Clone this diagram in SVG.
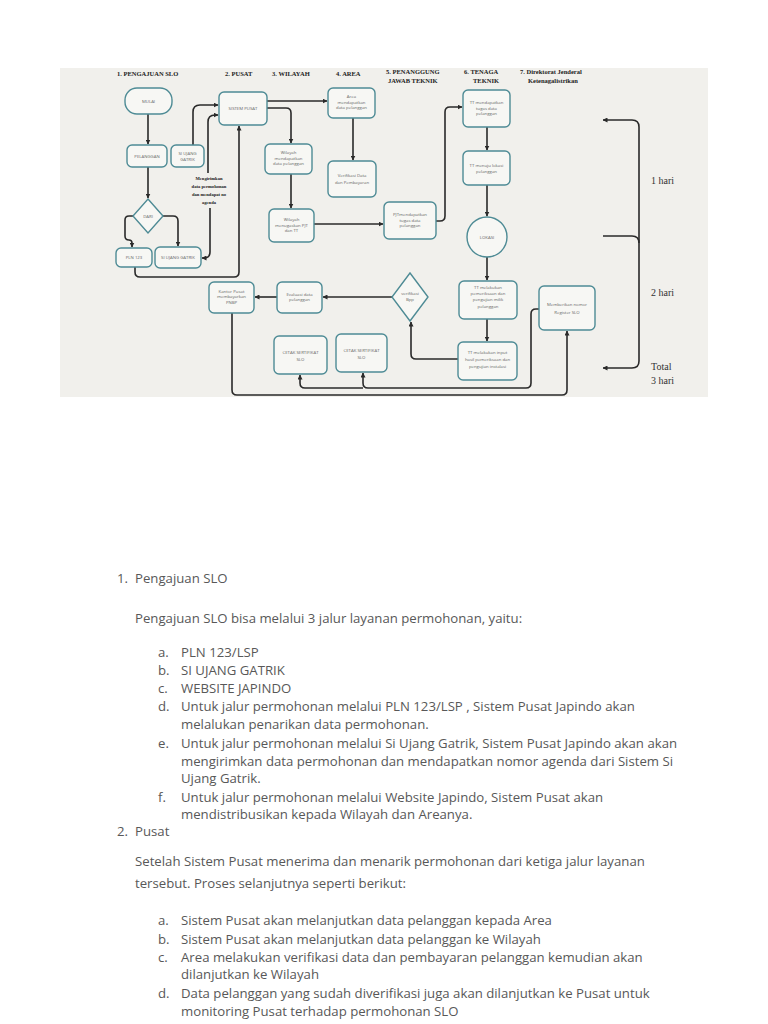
<svg xmlns="http://www.w3.org/2000/svg" width="768" height="1024" viewBox="0 0 768 1024">
<style>
.hd{font-family:"Liberation Serif",serif;font-weight:bold;font-size:6.5px;fill:#222}
.nd rect,.nd circle,.nd polygon{fill:#f7f7f4;stroke:#4e8b95;stroke-width:1.4}
.nt{font-family:"Open Sans","Liberation Sans",sans-serif;font-size:4.3px;fill:#666;text-anchor:middle}
.cn path{fill:none;stroke:#2a2a2a;stroke-width:1.6}
.lb{font-family:"Liberation Serif",serif;font-size:10px;fill:#333}
.mk{font-family:"Liberation Serif",serif;font-weight:bold;font-size:4.6px;fill:#222;text-anchor:middle}
.tx{font-family:"Open Sans","Liberation Sans",sans-serif;font-size:13.2px;fill:#585858}
</style>
<defs>
<marker id="ar" viewBox="0 0 10 10" refX="9" refY="5" markerWidth="5" markerHeight="5" markerUnits="userSpaceOnUse" orient="auto-start-reverse">
<path d="M0,0 L10,5 L0,10 z" fill="#2a2a2a"/>
</marker>
</defs>
<rect x="0" y="0" width="768" height="1024" fill="#ffffff"/>
<rect x="60" y="68" width="648" height="329" fill="#f1f0ec"/>

<g id="headers">
<text class="hd" x="117" y="75.5">1.   PENGAJUAN SLO</text>
<text class="hd" x="225" y="75.5">2. PUSAT</text>
<text class="hd" x="272" y="75.5">3. WILAYAH</text>
<text class="hd" x="336" y="75.5">4. AREA</text>
<text class="hd" x="386" y="74">5. PENANGGUNG</text>
<text class="hd" x="388" y="83">JAWAB TEKNIK</text>
<text class="hd" x="464" y="74">6.  TENAGA</text>
<text class="hd" x="473" y="83">TEKNIK</text>
<text class="hd" x="520" y="74">7. Direktorat Jenderal</text>
<text class="hd" x="528" y="83">Ketenagalistrikan</text>
</g>

<g class="cn" id="connectors">
<path d="M148,114 V144" marker-end="url(#ar)"/>
<path d="M148,167 V198" marker-end="url(#ar)"/>
<path d="M133,216 H129 Q125,216 125,220 V236 Q125,240 129,240 Q132,240 132,243 V247" marker-end="url(#ar)"/>
<path d="M163,216 H173 Q178,216 178,221 V246" marker-end="url(#ar)"/>
<path d="M193,145 V112 Q193,105 200,105 H218" marker-end="url(#ar)"/>
<path d="M208,173 V122 Q208,115 215,115 H218" marker-end="url(#ar)"/>
<path d="M210,208 V252 Q210,258 204,258 H202" marker-end="url(#ar)"/>
<path d="M135,267 V272 Q135,277 140,277 H234 Q239,277 239,272 V126" marker-end="url(#ar)"/>
<path d="M267,101 H327" marker-end="url(#ar)"/>
<path d="M267,108 H286 Q291,108 291,113 V143" marker-end="url(#ar)"/>
<path d="M353,118 V160" marker-end="url(#ar)"/>
<path d="M291,174 V208" marker-end="url(#ar)"/>
<path d="M314,224 H383" marker-end="url(#ar)"/>
<path d="M436,221 H440 Q445,221 445,216 V112 Q445,107 450,107 H462" marker-end="url(#ar)"/>
<path d="M487,127 V150" marker-end="url(#ar)"/>
<path d="M487,185 V216" marker-end="url(#ar)"/>
<path d="M487,257 V280" marker-end="url(#ar)"/>
<path d="M487,319 V341" marker-end="url(#ar)"/>
<path d="M458,359 H416 Q411,359 411,354 V322" marker-end="url(#ar)"/>
<path d="M392,297 H323" marker-end="url(#ar)"/>
<path d="M277,297 H255" marker-end="url(#ar)"/>
<path d="M232,313 V390 Q232,395 237,395 H562 Q567,395 567,390 V331" marker-end="url(#ar)"/>
<path d="M539,309 H536 Q531,309 531,314 V383 Q531,388 526,388 H368 Q363,388 363,383 V373" marker-end="url(#ar)"/>
<path d="M363,388 H305 Q300,388 300,383 V375" marker-end="url(#ar)"/>
<path d="M603,120 H632 Q639,120 639,127 V361 Q639,368 632,368 H603" marker-start="url(#ar)" marker-end="url(#ar)"/>
<path d="M603,236 H632 Q639,236 639,243"/>
</g>

<g id="mengirimkan-label">
<text class="mk" x="209" y="179.5">Mengirimkan</text>
<text class="mk" x="209" y="188">data permohonan</text>
<text class="mk" x="209" y="196">dan mendapat no</text>
<text class="mk" x="209" y="204">agenda</text>
</g>

<g id="n-mulai" class="nd"><rect x="125" y="88" width="47" height="26" rx="12"/><text class="nt" x="148.5" y="102.5">MULAI</text></g>
<g id="n-sistem-pusat" class="nd"><rect x="219" y="92" width="48" height="33" rx="5"/><text class="nt" x="243" y="110">SISTEM PUSAT</text></g>
<g id="n-pelanggan" class="nd"><rect x="127" y="145" width="40" height="22" rx="5"/><text class="nt" x="147" y="157.5">PELANGGAN</text></g>
<g id="n-siujang-top" class="nd"><rect x="171" y="145" width="33" height="22" rx="5"/><text class="nt" x="187.5" y="155">SI UJANG</text><text class="nt" x="187.5" y="160.5">GATRIK</text></g>
<g id="n-wilayah-dapat" class="nd"><rect x="265" y="144" width="47" height="30" rx="5"/><text class="nt" x="288.5" y="154">Wilayah</text><text class="nt" x="288.5" y="159.5">mendapatkan</text><text class="nt" x="288.5" y="165">data pelanggan</text></g>
<g id="n-area" class="nd"><rect x="328" y="88" width="47" height="30" rx="5"/><text class="nt" x="351.5" y="98">Area</text><text class="nt" x="351.5" y="103.5">mendapatkan</text><text class="nt" x="351.5" y="109">data pelanggan</text></g>
<g id="n-verifikasi" class="nd"><rect x="328" y="161" width="48" height="36" rx="5"/><text class="nt" x="352" y="176.5">Verifikasi Data</text><text class="nt" x="352" y="183.5">dan Pembayaran</text></g>
<g id="n-tt-dapat" class="nd"><rect x="463" y="90" width="47" height="37" rx="5"/><text class="nt" x="486.5" y="104">TT mendapatkan</text><text class="nt" x="486.5" y="109.5">tugas data</text><text class="nt" x="486.5" y="115">pelanggan</text></g>
<g id="n-tt-menuju" class="nd"><rect x="463" y="151" width="47" height="34" rx="5"/><text class="nt" x="486.5" y="167">TT menuju lokasi</text><text class="nt" x="486.5" y="172.5">pelanggan</text></g>
<g id="n-wilayah-tugas" class="nd"><rect x="269" y="209" width="45" height="33" rx="5"/><text class="nt" x="291.5" y="221">Wilayah</text><text class="nt" x="291.5" y="226.5">menugaskan PJT</text><text class="nt" x="291.5" y="232">dan TT</text></g>
<g id="n-pjt" class="nd"><rect x="384" y="202" width="52" height="37" rx="5"/><text class="nt" x="410" y="216">PJTmendapatkan</text><text class="nt" x="410" y="221.5">tugas data</text><text class="nt" x="410" y="227">pelanggan</text></g>
<g id="n-lokasi" class="nd"><circle cx="487" cy="237" r="20"/><text class="nt" x="487" y="238.5">LOKASI</text></g>
<g id="n-dari" class="nd"><polygon points="148,199 163,216 148,233 133,216"/><text class="nt" x="148" y="217.5">DARI</text></g>
<g id="n-pln" class="nd"><rect x="116" y="248" width="36" height="19" rx="5"/><text class="nt" x="134" y="259">PLN 123</text></g>
<g id="n-siujang-bottom" class="nd"><rect x="155" y="247" width="46" height="21" rx="5"/><text class="nt" x="178" y="259">SI UJANG GATRIK</text></g>
<g id="n-kantor" class="nd"><rect x="209" y="282" width="45" height="31" rx="5"/><text class="nt" x="231.5" y="292.5">Kantor Pusat</text><text class="nt" x="231.5" y="298">membayarkan</text><text class="nt" x="231.5" y="303.5">PNBP</text></g>
<g id="n-evaluasi" class="nd"><rect x="277" y="282" width="45" height="31" rx="5"/><text class="nt" x="299.5" y="295.5">Evaluasi data</text><text class="nt" x="299.5" y="301">pelanggan</text></g>
<g id="n-verif-bpp" class="nd"><polygon points="410,273 428,297 410,321 392,297"/><text class="nt" x="410" y="295">verifikasi</text><text class="nt" x="410" y="300.5">Bpp</text></g>
<g id="n-cetak1" class="nd"><rect x="274" y="336" width="53" height="38" rx="5"/><text class="nt" x="300.5" y="353.5">CETAK SERTIFIKAT</text><text class="nt" x="300.5" y="360.5">SLO</text></g>
<g id="n-cetak2" class="nd"><rect x="336" y="334" width="51" height="38" rx="5"/><text class="nt" x="361.5" y="351.5">CETAK SERTIFIKAT</text><text class="nt" x="361.5" y="358.5">SLO</text></g>
<g id="n-tt-periksa" class="nd"><rect x="459" y="281" width="58" height="38" rx="5"/><text class="nt" x="488" y="288.5">TT melakukan</text><text class="nt" x="488" y="294.5">pemeriksaan dan</text><text class="nt" x="488" y="301">pengujian milik</text><text class="nt" x="488" y="307.5">pelanggan</text></g>
<g id="n-tt-input" class="nd"><rect x="458" y="342" width="59" height="38" rx="5"/><text class="nt" x="487.5" y="353.5">TT melakukan input</text><text class="nt" x="487.5" y="360.5">hasil pemeriksaan dan</text><text class="nt" x="487.5" y="367.5">pengujian instalasi</text></g>
<g id="n-register" class="nd"><rect x="539" y="286" width="56" height="44" rx="5"/><text class="nt" x="567" y="305.5">Memberikan nomor</text><text class="nt" x="567" y="314">Register SLO</text></g>

<g id="durations">
<text class="lb" x="651" y="184">1 hari</text>
<text class="lb" x="651" y="296">2 hari</text>
<text class="lb" x="651" y="370">Total</text>
<text class="lb" x="651" y="384">3 hari</text>
</g>

<g id="body-text">
<text class="tx" x="117" y="583">1.</text><text class="tx" x="135" y="583">Pengajuan SLO</text>
<text class="tx" x="135" y="623">Pengajuan SLO bisa melalui 3 jalur layanan permohonan, yaitu:</text>
<text class="tx" x="158" y="657">a.</text><text class="tx" x="181" y="657">PLN 123/LSP</text>
<text class="tx" x="158" y="675">b.</text><text class="tx" x="181" y="675">SI UJANG GATRIK</text>
<text class="tx" x="158" y="693">c.</text><text class="tx" x="181" y="693">WEBSITE JAPINDO</text>
<text class="tx" x="158" y="711">d.</text><text class="tx" x="181" y="711">Untuk jalur permohonan melalui PLN 123/LSP , Sistem Pusat Japindo akan</text>
<text class="tx" x="181" y="729">melalukan penarikan data permohonan.</text>
<text class="tx" x="158" y="748">e.</text><text class="tx" x="181" y="748">Untuk jalur permohonan melalui Si Ujang Gatrik, Sistem Pusat Japindo akan akan</text>
<text class="tx" x="181" y="766">mengirimkan data permohonan dan mendapatkan nomor agenda dari Sistem Si</text>
<text class="tx" x="181" y="783">Ujang Gatrik.</text>
<text class="tx" x="158" y="802">f.</text><text class="tx" x="181" y="802">Untuk jalur permohonan melalui Website Japindo, Sistem Pusat akan</text>
<text class="tx" x="181" y="819">mendistribusikan kepada Wilayah dan Areanya.</text>
<text class="tx" x="117" y="836">2.</text><text class="tx" x="135" y="836">Pusat</text>
<text class="tx" x="135" y="866">Setelah Sistem Pusat menerima dan menarik permohonan dari ketiga jalur layanan</text>
<text class="tx" x="135" y="888">tersebut. Proses selanjutnya seperti berikut:</text>
<text class="tx" x="158" y="925">a.</text><text class="tx" x="181" y="925">Sistem Pusat akan melanjutkan data pelanggan kepada Area</text>
<text class="tx" x="158" y="944">b.</text><text class="tx" x="181" y="944">Sistem Pusat akan melanjutkan data pelanggan ke Wilayah</text>
<text class="tx" x="158" y="962">c.</text><text class="tx" x="181" y="962">Area melakukan verifikasi data dan pembayaran pelanggan kemudian akan</text>
<text class="tx" x="181" y="979">dilanjutkan ke Wilayah</text>
<text class="tx" x="158" y="998">d.</text><text class="tx" x="181" y="998">Data pelanggan yang sudah diverifikasi juga akan dilanjutkan ke Pusat untuk</text>
<text class="tx" x="181" y="1016">monitoring Pusat terhadap permohonan SLO</text>
</g>
</svg>
